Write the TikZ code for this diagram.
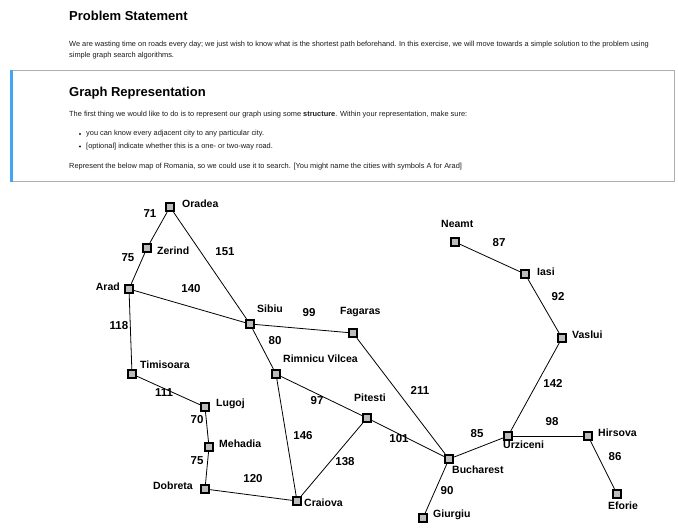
\documentclass[tikz,border=0pt]{standalone}
\usepackage{fontspec}
\setmainfont{Liberation Sans}
\definecolor{cityfill}{RGB}{188,188,188}
\definecolor{textgray}{RGB}{25,25,25}
\definecolor{barblue}{RGB}{66,165,245}
\definecolor{boxgray}{RGB}{175,175,175}
\begin{document}
\begin{tikzpicture}[x=1pt,y=-1pt,
 city/.style={draw=black,line width=1.8pt,fill=cityfill,minimum size=8.5pt,inner sep=0pt,shape=rectangle},
 cname/.style={font=\fontsize{10.5}{12}\selectfont\bfseries,inner sep=0pt},
 dist/.style={font=\fontsize{11.5}{13}\selectfont\bfseries,inner sep=0pt},
 road/.style={line width=0.8pt,draw=black},
 para/.style={font=\fontsize{7.4}{8.5}\selectfont,text=textgray,inner sep=0pt,anchor=west},
 heading/.style={font=\fontsize{13}{15}\selectfont\bfseries,inner sep=0pt,anchor=west}]
\useasboundingbox (0,0) rectangle (678,531);

% --- text header ---
\node[heading] (h1) at (69,15.5) {Problem Statement};
\node[para] (p1) at (69,44.5) {We are wasting time on roads every day; we just wish to know what is the shortest path beforehand. In this exercise, we will move towards a simple solution to the problem using};
\node[para] (p2) at (69,55.5) {simple graph search algorithms.};

% --- box ---
\draw[boxgray,line width=0.9pt] (10,70.5) rectangle (674,181);
\fill[barblue] (9.5,70) rectangle (12.5,181.5);
\node[heading] (h2) at (69,93) {Graph Representation};
\node[para] (q1) at (69,115) {The first thing we would like to do is to represent our graph using some \textbf{structure}. Within your representation, make sure:};
\fill[textgray] (80,134) circle (1.1pt);
\node[para] (b1) at (86,134) {you can know every adjacent city to any particular city.};
\fill[textgray] (80,146.5) circle (1.1pt);
\node[para] (b2) at (86,146.5) {[optional] indicate whether this is a one- or two-way road.};
\node[para] (q2) at (69,167) {Represent the below map of Romania, so we could use it to search. [You might name the cities with symbols A for Arad]};

% --- cities ---
\node[city] (oradea) at (170,207) {};
\node[city] (zerind) at (147,248) {};
\node[city] (arad) at (129,289) {};
\node[city] (timisoara) at (132,374) {};
\node[city] (lugoj) at (205,407) {};
\node[city] (mehadia) at (209,447) {};
\node[city] (dobreta) at (205,489) {};
\node[city] (craiova) at (297,501) {};
\node[city] (rimnicu) at (276,374) {};
\node[city] (pitesti) at (367,418) {};
\node[city] (sibiu) at (250,324) {};
\node[city] (fagaras) at (353,333) {};
\node[city] (bucharest) at (449,459) {};
\node[city] (giurgiu) at (423,518) {};
\node[city] (urziceni) at (508,436) {};
\node[city] (hirsova) at (588,436) {};
\node[city] (eforie) at (617,494) {};
\node[city] (vaslui) at (562,338) {};
\node[city] (iasi) at (525,274) {};
\node[city] (neamt) at (455,242) {};

% --- roads ---
\draw[road] (oradea) -- (zerind);
\draw[road] (zerind) -- (arad);
\draw[road] (oradea) -- (sibiu);
\draw[road] (arad) -- (sibiu);
\draw[road] (arad) -- (timisoara);
\draw[road] (timisoara) -- (lugoj);
\draw[road] (lugoj) -- (mehadia);
\draw[road] (mehadia) -- (dobreta);
\draw[road] (dobreta) -- (craiova);
\draw[road] (sibiu) -- (fagaras);
\draw[road] (sibiu) -- (rimnicu);
\draw[road] (rimnicu) -- (pitesti);
\draw[road] (rimnicu) -- (craiova);
\draw[road] (pitesti) -- (craiova);
\draw[road] (pitesti) -- (bucharest);
\draw[road] (fagaras) -- (bucharest);
\draw[road] (bucharest) -- (giurgiu);
\draw[road] (bucharest) -- (urziceni);
\draw[road] (urziceni) -- (hirsova);
\draw[road] (urziceni) -- (vaslui);
\draw[road] (hirsova) -- (eforie);
\draw[road] (vaslui) -- (iasi);
\draw[road] (iasi) -- (neamt);

% --- city names ---
\node[cname,anchor=west] (lOradea) at (182,204) {Oradea};
\node[cname,anchor=west] (lZerind) at (157,251) {Zerind};
\node[cname,anchor=east] (lArad) at (120,287) {Arad};
\node[cname,anchor=west] (lSibiu) at (257,309) {Sibiu};
\node[cname,anchor=west] (lFagaras) at (340,312) {Fagaras};
\node[cname,anchor=west] (lNeamt) at (441,224) {Neamt};
\node[cname,anchor=west] (lIasi) at (537,272) {Iasi};
\node[cname,anchor=west] (lVaslui) at (572,335) {Vaslui};
\node[cname,anchor=west] (lTimisoara) at (140,365) {Timisoara};
\node[cname,anchor=west] (lLugoj) at (216,404) {Lugoj};
\node[cname,anchor=west] (lMehadia) at (219,444) {Mehadia};
\node[cname,anchor=east] (lDobreta) at (193,486) {Dobreta};
\node[cname,anchor=west] (lCraiova) at (304,503) {Craiova};
\node[cname,anchor=west] (lRimnicu) at (283,359) {Rimnicu Vilcea};
\node[cname,anchor=west] (lPitesti) at (354,398) {Pitesti};
\node[cname,anchor=west] (lBucharest) at (452,470) {Bucharest};
\node[cname,anchor=west] (lUrziceni) at (503,445) {Urziceni};
\node[cname,anchor=west] (lHirsova) at (598,433) {Hirsova};
\node[cname,anchor=west] (lEforie) at (608,506) {Eforie};
\node[cname,anchor=west] (lGiurgiu) at (433,515) {Giurgiu};

% --- distances ---
\node[dist] (d71) at (150,214) {71};
\node[dist] (d75a) at (128,258) {75};
\node[dist] (d151) at (225,252) {151};
\node[dist] (d140) at (191,289) {140};
\node[dist] (d118) at (119,326) {118};
\node[dist] (d99) at (309,313) {99};
\node[dist] (d80) at (275,341) {80};
\node[dist] (d87) at (499,243) {87};
\node[dist] (d92) at (558,297) {92};
\node[dist] (d111) at (164,393) {111};
\node[dist] (d70) at (197,420) {70};
\node[dist] (d75b) at (197,461) {75};
\node[dist] (d120) at (253,479) {120};
\node[dist] (d146) at (303,436) {146};
\node[dist] (d97) at (317,401) {97};
\node[dist] (d138) at (345,462) {138};
\node[dist] (d211) at (420,390) {211};
\node[dist] (d101) at (399,439) {101};
\node[dist] (d85) at (477,434) {85};
\node[dist] (d142) at (553,383) {142};
\node[dist] (d98) at (552,422) {98};
\node[dist] (d86) at (615,457) {86};
\node[dist] (d90) at (447,491) {90};
\end{tikzpicture}
\end{document}
